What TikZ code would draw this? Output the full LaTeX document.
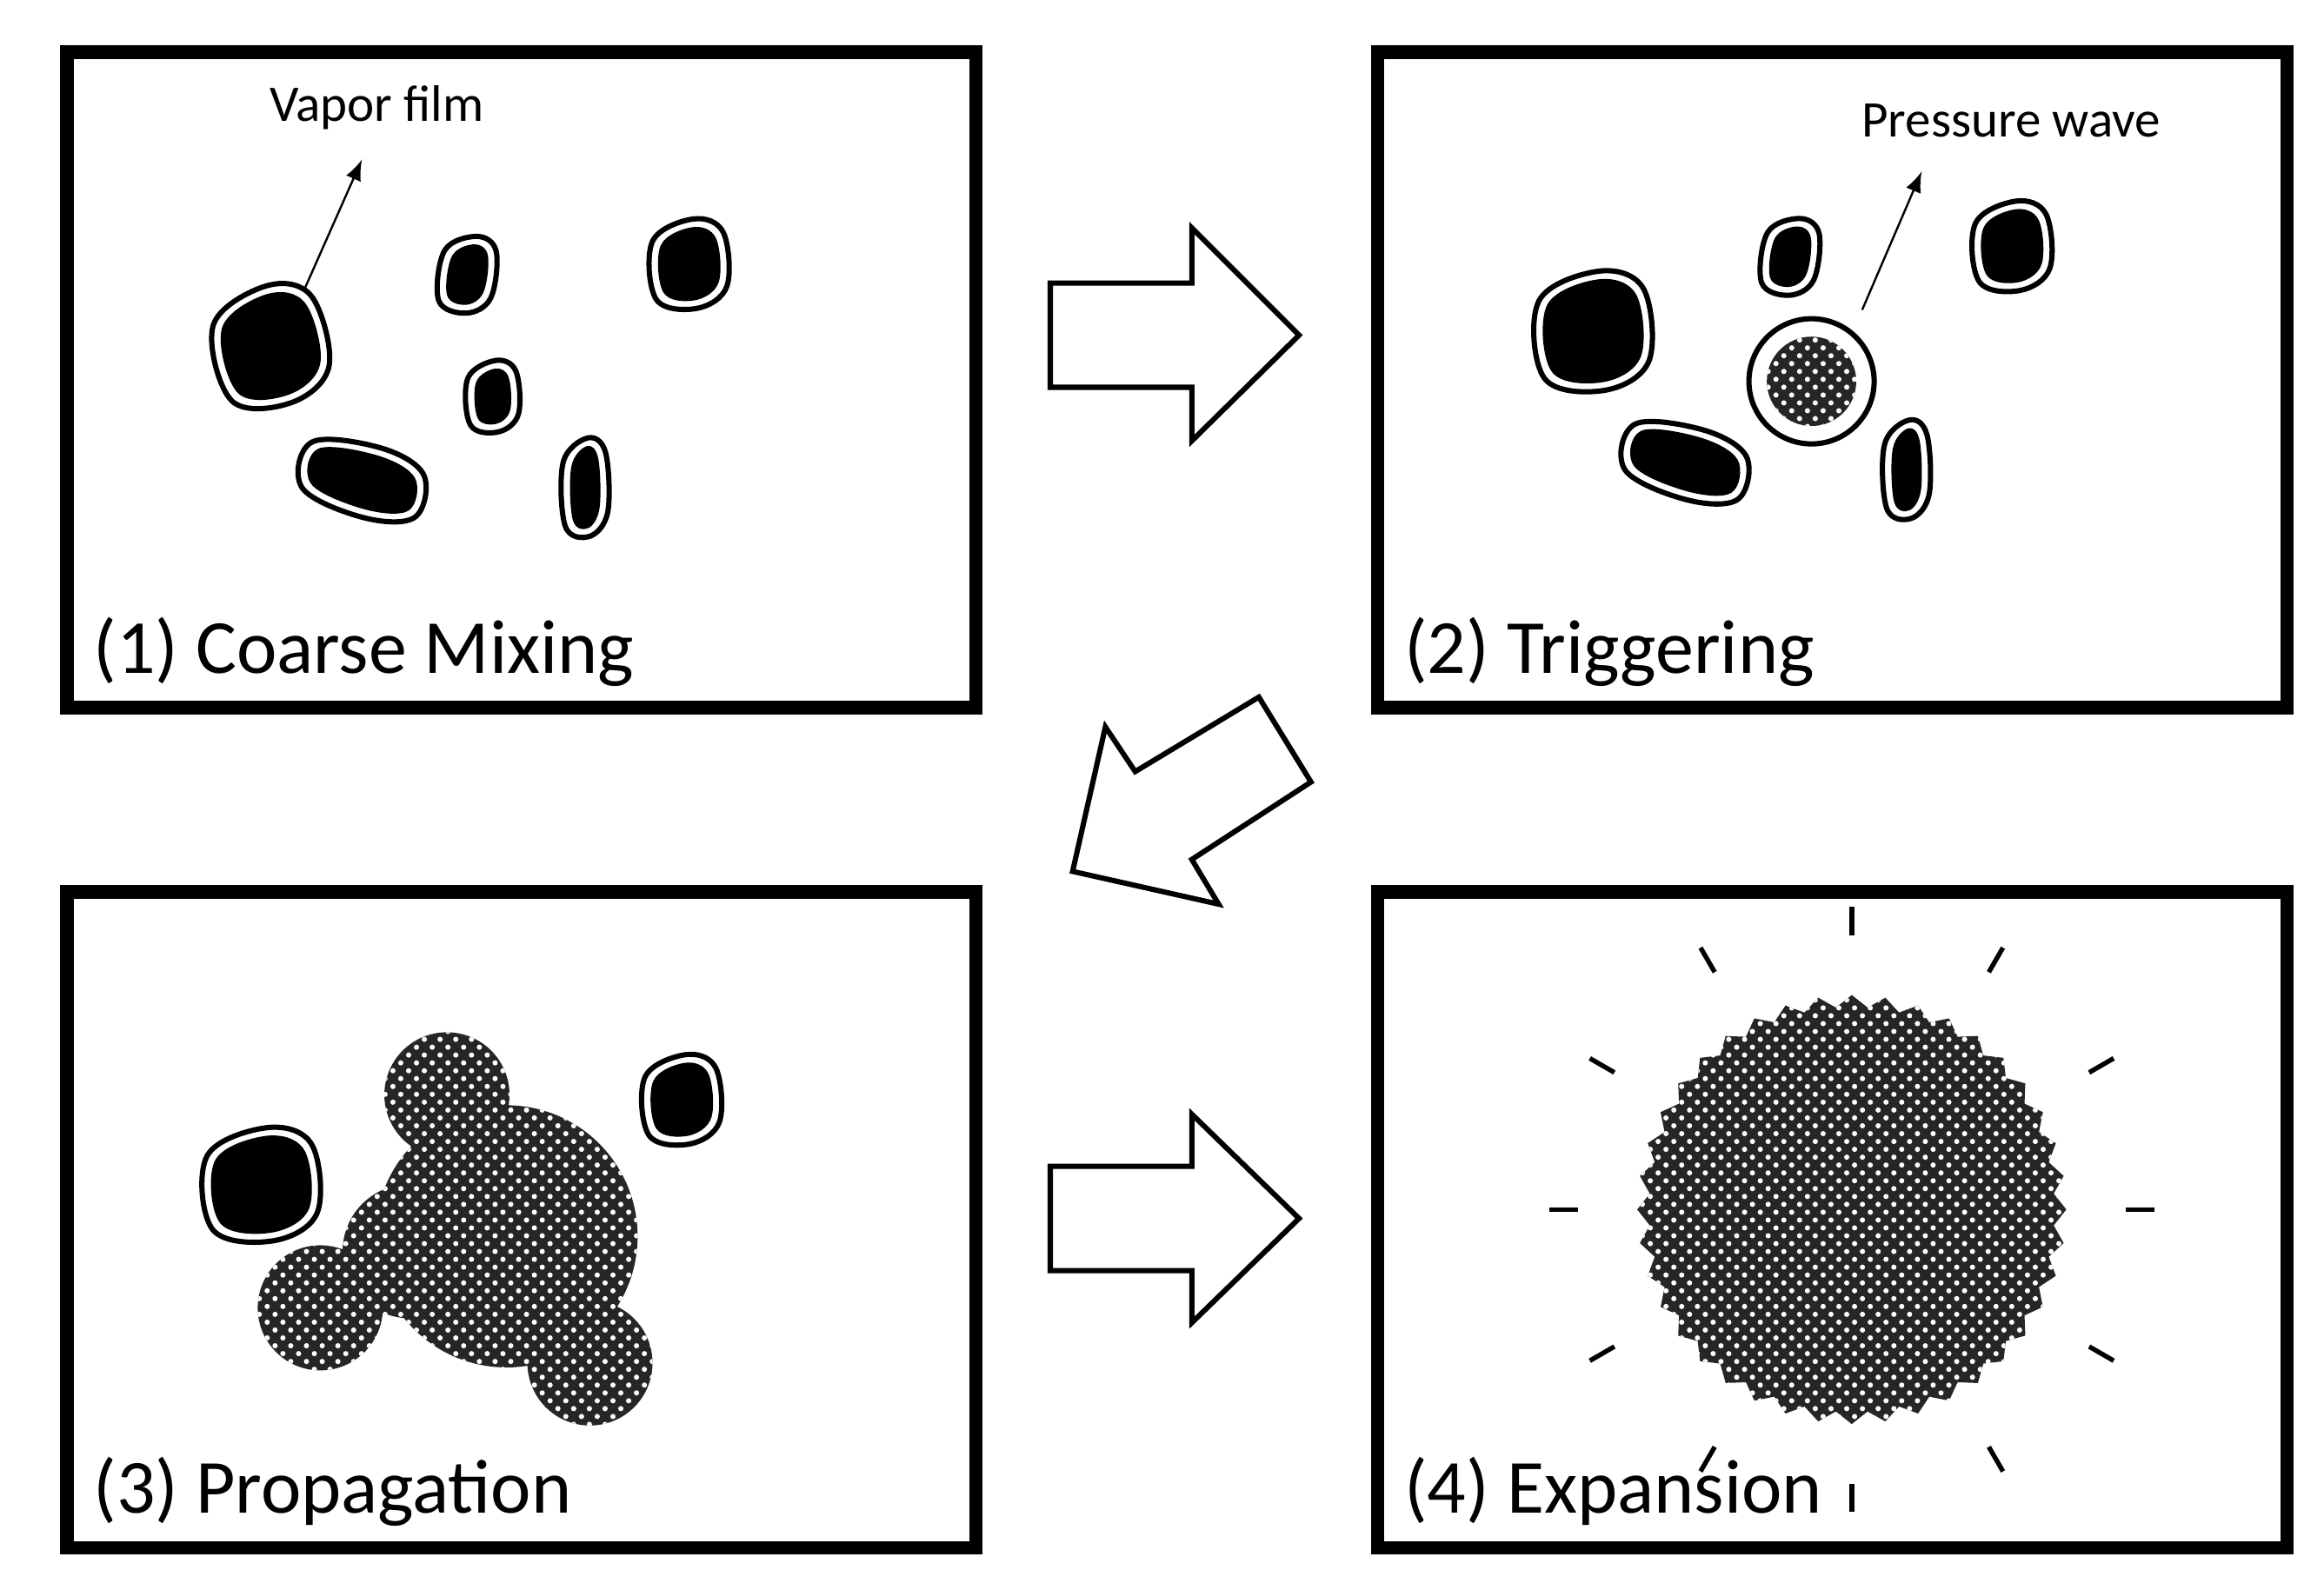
\documentclass[tikz,border=0pt]{standalone}
\usepackage{fontspec}
\setmainfont{Carlito}
\usetikzlibrary{patterns,calc}
\tikzset{
    panel/.style={draw, line width=2.6pt, minimum width=6.1cm, minimum height=4.4cm},
    caption/.style={font=\fontsize{14.6}{17}\selectfont, anchor=base west, inner sep=0pt},
    note/.style={font=\fontsize{9.8}{11}\selectfont, inner sep=1pt},
    blob/.style={fill=black!85, pattern color=white},
    blockarrow/.style={draw, line width=1pt, fill=white, line join=miter},
    drop outer/.style={draw, line width=1pt, fill=white},
    drop inner/.style={fill=black}
}
% droplet: x, y, width, height, rotation
\newcommand{\drop}[5]{%
  \begin{scope}[shift={(#1,#2)}, rotate=#5]
    \draw[drop outer, xscale=#3, yscale=#4] plot[smooth cycle, tension=0.6]
      coordinates {(-0.5,-0.25) (0.05,-0.5) (0.45,-0.35) (0.5,0.25) (0.1,0.5) (-0.45,0.4)};
    \fill[drop inner, xscale=#3-11, yscale=#4-11] plot[smooth cycle, tension=0.6]
      coordinates {(-0.5,-0.25) (0.05,-0.5) (0.45,-0.35) (0.5,0.25) (0.1,0.5) (-0.45,0.4)};
  \end{scope}}
\begin{document}
\begin{tikzpicture}[x=0.01cm, y=-0.01cm, >=latex]
\useasboundingbox (0,0) rectangle (1560,1067);

% panels
\node[panel] (mixing) at (350,255) {};
\node[panel] (trigger) at (1230,255) {};
\node[panel] (propagation) at (350,819) {};
\node[panel] (expansion) at (1230,819) {};

\node[caption] (mixingtext) at (62,452) {(1) Coarse Mixing};
\node[caption] (triggertext) at (942,452) {(2) Triggering};
\node[caption] (propagationtext) at (62,1016) {(3) Propagation};
\node[caption] (expansiontext) at (942,1016) {(4) Expansion};

% block arrows
\draw[blockarrow] (705,190) -- (800,190) -- (800,153) -- (872,225) -- (800,296)
  -- (800,260) -- (705,260) -- cycle;
\draw[blockarrow] (705,783) -- (800,783) -- (800,748) -- (872,818) -- (800,888)
  -- (800,853) -- (705,853) -- cycle;
\draw[blockarrow] (880,525) -- (845,468) -- (762,518) -- (742,488) -- (720,585)
  -- (818,607) -- (800,577) -- cycle;

% (1) coarse mixing
\drop{182}{232}{72}{80}{10}
\drop{314}{184}{36}{52}{-10}
\drop{463}{177}{50}{60}{0}
\drop{331}{266}{34}{48}{0}
\drop{244}{322}{82}{48}{-20}
\drop{393}{327}{30}{66}{0}
\node[note] (vapor) at (253,72) {Vapor film};
\coordinate (vaporfoot) at (204,195);
\coordinate (vaporhead) at (243,107);
\draw[->] (vaporfoot) -- (vaporhead);

% (2) triggering
\drop{1070}{222}{74}{80}{0}
\drop{1202}{172}{36}{52}{-10}
\drop{1351}{165}{50}{60}{0}
\drop{1132}{310}{82}{48}{-20}
\drop{1280}{315}{30}{66}{0}
\node[draw, line width=1pt, circle, minimum size=0.84cm, fill=white] (trigring) at (1216,256) {};
\fill[blob] (trigring.center) circle (30);
\fill[pattern=crosshatch dots, pattern color=white] (trigring.center) circle (30);
\node[note] (pressure) at (1350,81) {Pressure wave};
\coordinate (pressurefoot) at (1250,208);
\coordinate (pressurehead) at (1290,115);
\draw[->] (pressurefoot) -- (pressurehead);

% (3) propagation
\drop{176}{795}{74}{76}{0}
\drop{458}{738}{50}{60}{0}
\fill[blob] (300,735) circle (42) (340,830) circle (88) (275,840) circle (45)
  (215,878) circle (42) (396,915) circle (42);
\fill[pattern=crosshatch dots, pattern color=white] (300,735) circle (42)
  (340,830) circle (88) (275,840) circle (45) (215,878) circle (42) (396,915) circle (42);

% (4) expansion
\coordinate (burst) at (1243,812);
\fill[blob, shift={(burst)}] plot[domain=0:360, samples=81]
  ({(140+4*cos(40*\x))*cos(\x)}, {(140+4*cos(40*\x))*sin(\x)}) -- cycle;
\fill[pattern=crosshatch dots, pattern color=white, shift={(burst)}] plot[domain=0:360, samples=81]
  ({(140+4*cos(40*\x))*cos(\x)}, {(140+4*cos(40*\x))*sin(\x)}) -- cycle;
\foreach \a in {0,30,...,330}
  \draw[line width=0.9pt] ($(burst)+(\a:184)$) -- ($(burst)+(\a:203)$);
\end{tikzpicture}
\end{document}
